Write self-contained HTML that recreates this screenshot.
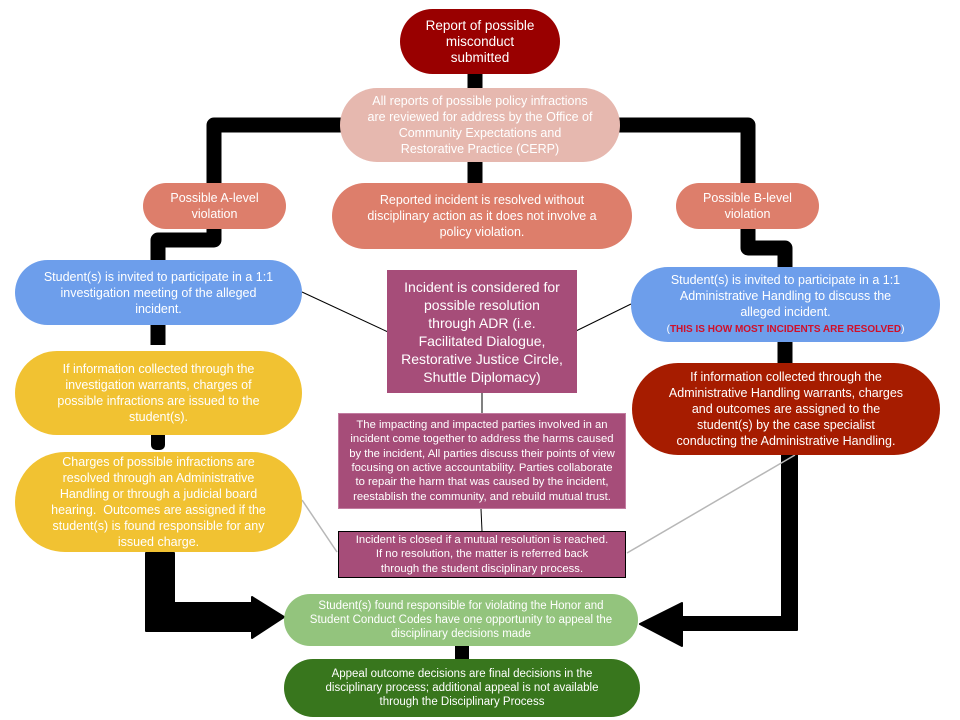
<!DOCTYPE html>
<html><head><meta charset="utf-8">
<style>
html,body{margin:0;padding:0;background:#fff;width:960px;height:720px;overflow:hidden}
body{position:relative;font-family:"Liberation Sans",sans-serif;color:#fff}
.b{position:absolute;display:flex;align-items:center;justify-content:center;text-align:center;box-sizing:border-box;font-size:12.5px;line-height:16px}
svg{position:absolute;left:0;top:0}
</style></head><body>
<svg width="960" height="720">
<g fill="none" stroke="#000" stroke-width="15" stroke-linejoin="round">
<path d="M475 70 V92"/>
<path d="M475 158 V186"/>
<path d="M344 125 H214 V186"/>
<path d="M214 226 V240 H158 V263"/>
<path d="M158 322 V345"/>
<path d="M616 125 H748 V186"/>
<path d="M748 226 V248 H785 V270"/>
<path d="M785 338 V366"/>
</g>
<rect x="151" y="430" width="14" height="20" rx="5" fill="#000"/>
<rect x="455" y="644" width="14" height="18" fill="#000"/>
<polygon points="146,553 174,553 174,603 252,603 252,597 284,617 252,638 252,631 146,631" fill="#000" stroke="#000" stroke-width="2" stroke-linejoin="round"/>
<polygon points="782,452 797,452 797,630 682,630 682,646 640,624 682,603 682,617 782,617" fill="#000" stroke="#000" stroke-width="2" stroke-linejoin="round"/>
<g stroke="#000" stroke-width="1">
<line x1="302" y1="292" x2="388" y2="332"/>
<line x1="631" y1="304" x2="576" y2="331"/>
<line x1="482" y1="393" x2="482" y2="413"/>
<line x1="481" y1="509" x2="482" y2="531"/>
</g>
<g stroke="#b7b7b7" stroke-width="1.5">
<line x1="302" y1="500" x2="337" y2="552"/>
<line x1="627" y1="553" x2="795" y2="455"/>
</g>
</svg>

<div class="b" style="left:400px;top:9px;width:160px;height:65px;border-radius:33px;background:#990000;font-size:13.5px;line-height:16px">Report of possible<br>misconduct<br>submitted</div>
<div class="b" style="left:340px;top:88px;width:280px;height:74px;border-radius:37px;background:#e6b8af">All reports of possible policy infractions<br>are reviewed for address by the Office of<br>Community Expectations and<br>Restorative Practice (CERP)</div>
<div class="b" style="left:332px;top:183px;width:300px;height:66px;border-radius:33px;background:#dd7e6b">Reported incident is resolved without<br>disciplinary action as it does not involve a<br>policy violation.</div>
<div class="b" style="left:143px;top:183px;width:143px;height:46px;border-radius:23px;background:#dd7e6b">Possible A-level<br>violation</div>
<div class="b" style="left:676px;top:183px;width:143px;height:46px;border-radius:23px;background:#dd7e6b">Possible B-level<br>violation</div>
<div class="b" style="left:15px;top:260px;width:287px;height:65px;border-radius:33px;background:#6d9eeb">Student(s) is invited to participate in a 1:1<br>investigation meeting of the alleged<br>incident.</div>
<div class="b" style="left:631px;top:267px;width:309px;height:75px;border-radius:37px;background:#6d9eeb"><div>Student(s) is invited to participate in a 1:1<br>Administrative Handling to discuss the<br>alleged incident.<br><span style="font-size:10px">(<b style="color:#d0102a">THIS IS HOW MOST INCIDENTS ARE RESOLVED</b>)</span></div></div>
<div class="b" style="left:387px;top:270px;width:190px;height:123px;background:#a64d79;font-size:14px;line-height:18px">Incident is considered for<br>possible resolution<br>through ADR (i.e.<br>Facilitated Dialogue,<br>Restorative Justice Circle,<br>Shuttle Diplomacy)</div>
<div class="b" style="left:15px;top:351px;width:287px;height:84px;border-radius:42px;background:#f1c232">If information collected through the<br>investigation warrants, charges of<br>possible infractions are issued to the<br>student(s).</div>
<div class="b" style="left:15px;top:452px;width:287px;height:100px;border-radius:50px;background:#f1c232">Charges of possible infractions are<br>resolved through an Administrative<br>Handling or through a judicial board<br>hearing.&nbsp; Outcomes are assigned if the<br>student(s) is found responsible for any<br>issued charge.</div>
<div class="b" style="left:632px;top:363px;width:308px;height:92px;border-radius:46px;background:#a61c00">If information collected through the<br>Administrative Handling warrants, charges<br>and outcomes are assigned to the<br>student(s) by the case specialist<br>conducting the Administrative Handling.</div>
<div class="b" style="left:338px;top:413px;width:288px;height:96px;background:#a64d79;font-size:11.3px;line-height:14.4px;border:1px solid #c27ba0">The impacting and impacted parties involved in an<br>incident come together to address the harms caused<br>by the incident, All parties discuss their points of view<br>focusing on active accountability. Parties collaborate<br>to repair the harm that was caused by the incident,<br>reestablish the community, and rebuild mutual trust.</div>
<div class="b" style="left:338px;top:531px;width:288px;height:47px;background:#a64d79;font-size:11.3px;line-height:14.4px;border:1px solid #000">Incident is closed if a mutual resolution is reached.<br>If no resolution, the matter is referred back<br>through the student disciplinary process.</div>
<div class="b" style="left:284px;top:594px;width:354px;height:52px;border-radius:26px;background:#93c47d;font-size:11.5px;line-height:14px">Student(s) found responsible for violating the Honor and<br>Student Conduct Codes have one opportunity to appeal the<br>disciplinary decisions made</div>
<div class="b" style="left:284px;top:659px;width:356px;height:58px;border-radius:29px;background:#38761d;font-size:11.5px;line-height:14px">Appeal outcome decisions are final decisions in the<br>disciplinary process; additional appeal is not available<br>through the Disciplinary Process</div>
</body></html>
